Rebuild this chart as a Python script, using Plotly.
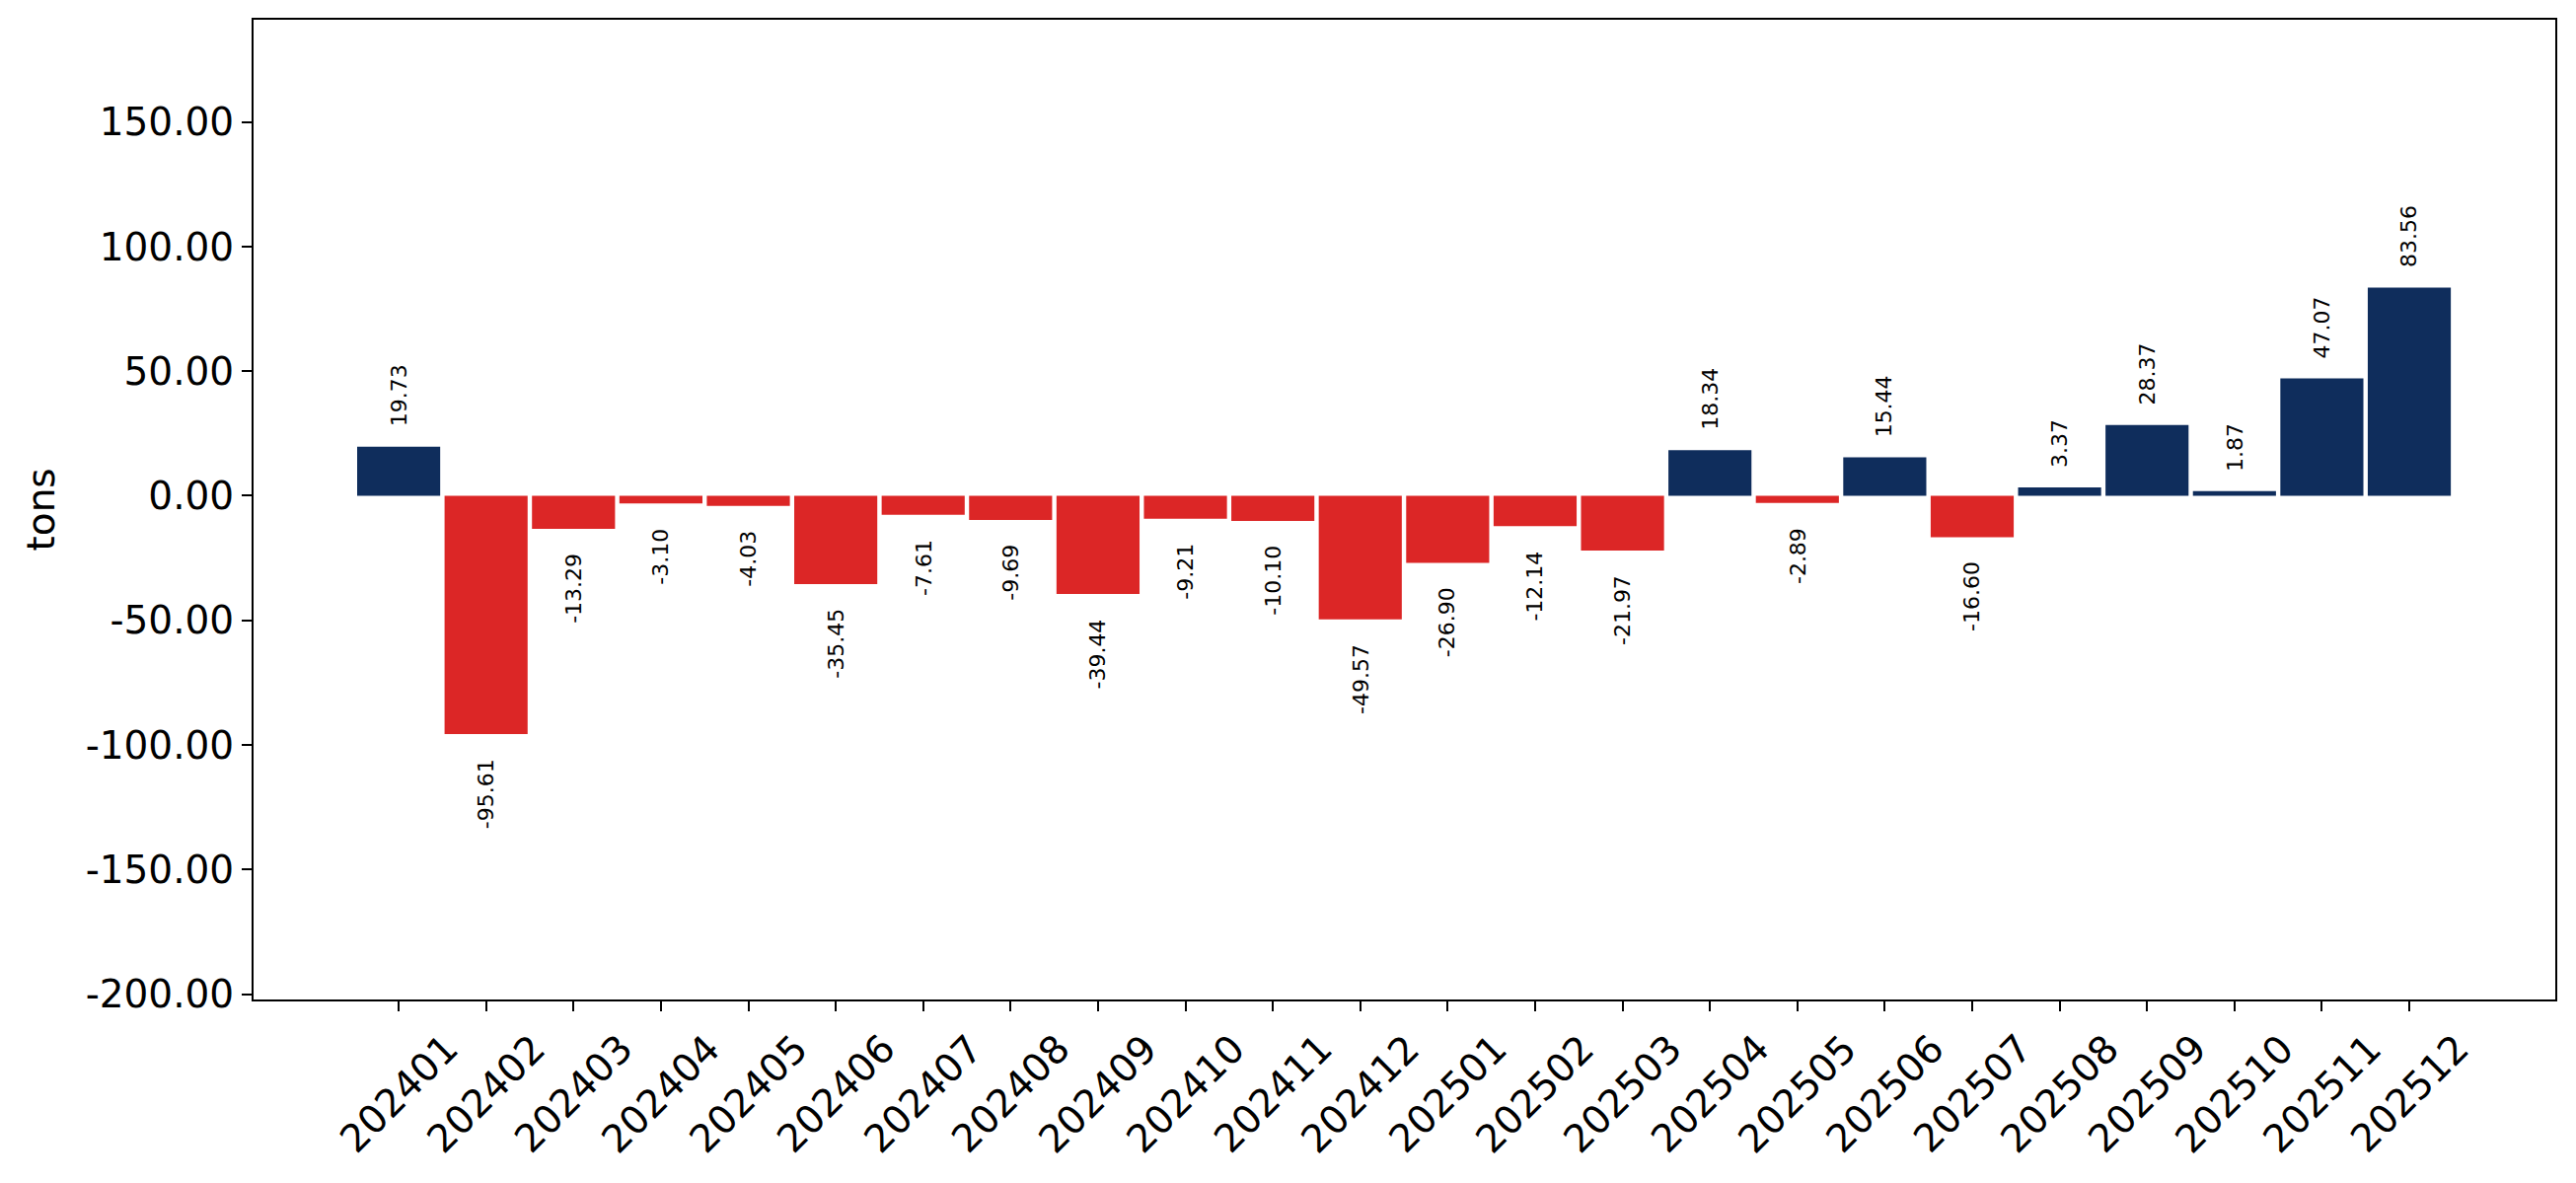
import plotly.graph_objects as go

months = ["202401", "202402", "202403", "202404", "202405", "202406", "202407", "202408",
          "202409", "202410", "202411", "202412", "202501", "202502", "202503", "202504",
          "202505", "202506", "202507", "202508", "202509", "202510", "202511", "202512"]
values = [19.73, -95.61, -13.29, -3.10, -4.03, -35.45, -7.61, -9.69,
          -39.44, -9.21, -10.10, -49.57, -26.90, -12.14, -21.97, 18.34,
          -2.89, 15.44, -16.60, 3.37, 28.37, 1.87, 47.07, 83.56]
y_ticks = [-200, -150, -100, -50, 0, 50, 100, 150]
y_title = "tons"

NAVY = "#0f2d5c"
RED = "#dc2626"
FONT = "DejaVu Sans"

colors = [NAVY if v >= 0 else RED for v in values]

fig = go.Figure()
fig.add_trace(go.Bar(
    x=months, y=values, width=0.95,
    marker=dict(color=colors, line=dict(width=0)),
    showlegend=False, hoverinfo="x+y",
))

annotations = []
for i, (m, v) in enumerate(zip(months, values)):
    pos = v >= 0
    annotations.append(dict(
        x=i, y=v, xref="x", yref="y", text=f"{v:.2f}", showarrow=False,
        textangle=-90, xanchor="center", yanchor="bottom" if pos else "top",
        yshift=18 if pos else -23, font=dict(family=FONT, size=22, color="black"),
    ))
    annotations.append(dict(
        x=i, y=0, xref="x", yref="paper", text=m, showarrow=False,
        textangle=-45, xanchor="center", yanchor="top", yshift=-24,
        font=dict(family=FONT, size=39, color="black"),
    ))
annotations.append(dict(
    x=0, y=0.5, xref="paper", yref="paper", text=y_title, showarrow=False,
    textangle=-90, xanchor="center", yanchor="middle", xshift=-216,
    font=dict(family=FONT, size=39, color="black"),
))

fig.update_layout(
    width=2611, height=1199,
    margin=dict(l=257, r=21, t=20, b=186, pad=0),
    paper_bgcolor="white", plot_bgcolor="white",
    font=dict(family=FONT, size=39, color="black"),
    annotations=annotations,
)
fig.update_xaxes(
    type="category", range=[-1.66, 24.67],
    showticklabels=False, ticks="outside", ticklen=10, tickwidth=2, tickcolor="black",
    showline=True, linewidth=2, linecolor="black", mirror=True,
    showgrid=False, zeroline=False,
)
fig.update_yaxes(
    range=[-202.1, 191], tickvals=y_ticks, ticktext=[f"{t:.2f}" for t in y_ticks],
    ticks="outside", ticklen=10, tickwidth=2, tickcolor="black",
    showline=True, linewidth=2, linecolor="black", mirror=True,
    showgrid=False, zeroline=False,
    tickfont=dict(family=FONT, size=39, color="black"),
)

fig.write_html("out.html")
